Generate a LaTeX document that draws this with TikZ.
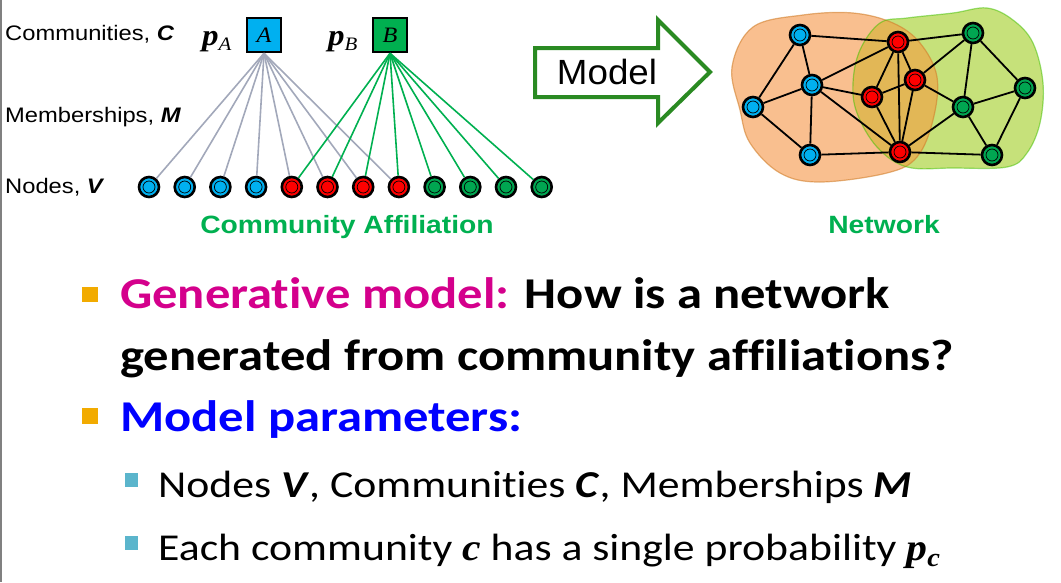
\documentclass[tikz,border=0pt]{standalone}
\usepackage{fontspec}
\setmainfont{Carlito}[FakeStretch=1.15, Ligatures=NoCommon]
\newfontfamily\arialf{Liberation Sans}[FakeStretch=1.13]
\newfontfamily\arialmdl{Liberation Sans}[FakeStretch=1.05]
\newfontfamily\timesf{Liberation Serif}[FakeStretch=1.1]
\usetikzlibrary{positioning}

\definecolor{cblue}{HTML}{00B0F0}
\definecolor{cred}{HTML}{FF0000}
\definecolor{cgreen}{HTML}{00A651}
\definecolor{labgreen}{HTML}{00B050}
\definecolor{membgray}{HTML}{A2A8BA}
\definecolor{arrgreen}{HTML}{2A8A22}
\definecolor{blobor}{HTML}{F9BF8F}
\definecolor{blobgr}{HTML}{C6E17A}
\definecolor{blobmix}{HTML}{E2B756}
\definecolor{genpink}{HTML}{D4008C}
\definecolor{parblue}{HTML}{0000FF}
\definecolor{bulor}{HTML}{F2AB00}
\definecolor{bulsub}{HTML}{5BB5CC}

\tikzset{
  vtx/.style={circle, draw=black, line width=2.6pt, minimum size=20pt, inner sep=0pt, fill=#1,
    path picture={\draw[line width=0.7pt] (path picture bounding box.center) circle (6pt);}},
  comm/.style={draw=black, line width=2.5pt, minimum size=34pt, inner sep=0pt, fill=#1,
    font=\timesf\itshape\fontsize{22}{22}\selectfont},
  memb/.style={line width=1.6pt, draw=#1},
  tie/.style={line width=1.8pt, draw=black},
  lvl/.style={anchor=base west, inner sep=0pt, font=\arialf\fontsize{21}{21}\selectfont},
  bul/.style={fill=bulor},
  subbul/.style={fill=bulsub},
  bigtxt/.style={anchor=base west, inner sep=0pt, font=\bfseries\fontsize{44}{44}\selectfont},
  smalltxt/.style={anchor=base west, inner sep=0pt, font=\fontsize{38}{38}\selectfont}
}

\newcommand{\pbi}{\timesf\bfseries\itshape}

\begin{document}
\begin{tikzpicture}[x=1pt, y=-1pt]
\useasboundingbox (0,0) rectangle (1061,582);
\draw[gray, line width=2pt] (1,0) -- (1,582);

% level labels
\node[lvl] (lc) at (5,40) {Communities, \textbf{\textit{C}}};
\node[lvl] (lm) at (5,122) {Memberships, \textbf{\textit{M}}};
\node[lvl] (lv) at (5,193) {Nodes, \textbf{\textit{V}}};

% communities
\node[comm=cblue] (A) at (264,35) {A};
\node[comm=labgreen] (B) at (390,35) {B};
\node[anchor=base west, inner sep=0pt] (pA) at (202,45) {{\pbi\fontsize{30}{30}\selectfont p}\raisebox{-5pt}{\timesf\itshape\fontsize{19}{19}\selectfont A}};
\node[anchor=base west, inner sep=0pt] (pB) at (328,45) {{\pbi\fontsize{30}{30}\selectfont p}\raisebox{-5pt}{\timesf\itshape\fontsize{19}{19}\selectfont B}};

% nodes
\foreach \i/\c in {1/cblue,2/cblue,3/cblue,4/cblue,5/cred,6/cred,7/cred,8/cred,9/cgreen,10/cgreen,11/cgreen,12/cgreen}
  \node[vtx=\c] (v\i) at ({149+35.7*(\i-1)},187) {};

% memberships
\foreach \i in {1,...,8}
  \draw[memb=membgray] (A.south) -- (v\i);
\foreach \i in {5,...,12}
  \draw[memb=labgreen] (B.south) -- (v\i);

\node[anchor=base, inner sep=0pt, text=labgreen, font=\arialf\bfseries\fontsize{25}{25}\selectfont] (aff) at (347,233) {Community Affiliation};

% model arrow
\draw[arrgreen, line width=4pt, fill=white, line join=miter]
  (535,48) -- (658,48) -- (658,20) -- (710,72) -- (658,123) -- (658,97) -- (535,97) -- cycle;
\node[inner sep=0pt, font=\arialmdl\fontsize{35}{35}\selectfont] (mdl) at (607,72) {Model};

% communities as blobs
\def\orangeblob{(732,67) (753,27) (803,15) (853,13) (893,23) (920,43) (937,77) (933,120) (917,157) (887,173) (820,182) (780,173) (750,143) (740,110)}
\def\greenblob{(853,83) (860,50) (880,23) (907,18) (953,13) (987,8) (1013,20) (1033,43) (1043,83) (1040,123) (1027,153) (1007,167) (953,168) (907,167) (877,147) (857,113)}
\fill[blobor] plot[smooth cycle, tension=0.6] coordinates {\orangeblob};
\fill[blobgr] plot[smooth cycle, tension=0.6] coordinates {\greenblob};
\begin{scope}
  \clip plot[smooth cycle, tension=0.6] coordinates {\orangeblob};
  \fill[blobmix] plot[smooth cycle, tension=0.6] coordinates {\greenblob};
\end{scope}
\draw[brown!70!orange, draw opacity=0.6, line width=1.2pt] plot[smooth cycle, tension=0.6] coordinates {\orangeblob};
\draw[green!50!olive, draw opacity=0.5, line width=1.2pt] plot[smooth cycle, tension=0.6] coordinates {\greenblob};

% network
\node[vtx=cblue] (b1) at (800,35) {};
\node[vtx=cblue] (b2) at (812,85) {};
\node[vtx=cblue] (b3) at (753,107) {};
\node[vtx=cblue] (b4) at (810,155) {};
\node[vtx=cred] (r1) at (898,42) {};
\node[vtx=cred] (r2) at (915,80) {};
\node[vtx=cred] (r3) at (872,97) {};
\node[vtx=cred] (r4) at (900,152) {};
\node[vtx=cgreen] (g1) at (973,33) {};
\node[vtx=cgreen] (g2) at (1025,88) {};
\node[vtx=cgreen] (g3) at (963,107) {};
\node[vtx=cgreen] (g4) at (992,155) {};
\foreach \p/\q in {b1/r1,b1/b2,b1/b3,b2/b3,b2/r1,b2/r3,b2/b4,b2/r4,b3/b4,b4/r4,
                   r1/g1,r1/r3,r1/r2,r1/r4,r2/r3,r2/g1,r2/g3,r2/r4,r3/r4,r4/g3,r4/g4,
                   g1/g3,g1/g2,g3/g2,g3/g4,g2/g4}
  \draw[tie] (\p) -- (\q);

\node[anchor=base, inner sep=0pt, text=labgreen, font=\arialf\bfseries\fontsize{25}{25}\selectfont] (net) at (884,233) {Network};

% bullet text
\fill[bul] (82,287) rectangle (98,302);
\node[bigtxt] (t1) at (120,308) {\textcolor{genpink}{Generative model:} How is a network};
\node[bigtxt] (t2) at (120,370) {generated from community affiliations?};
\fill[bul] (82,408) rectangle (98,424);
\node[bigtxt, text=parblue] (t3) at (120,431) {Model parameters:};
\fill[subbul] (125,473) rectangle (138,487);
\node[smalltxt] (t4) at (158,497) {Nodes \textbf{\textit{V}}, Communities \textbf{\textit{C}}, Memberships \textbf{\textit{M}}};
\fill[subbul] (125,536) rectangle (138,550);
\node[smalltxt] (t5) at (158,560) {Each community {\pbi c} has a single probability {\pbi p}\raisebox{-6pt}{\pbi\fontsize{26}{26}\selectfont c}};
\end{tikzpicture}
\end{document}
